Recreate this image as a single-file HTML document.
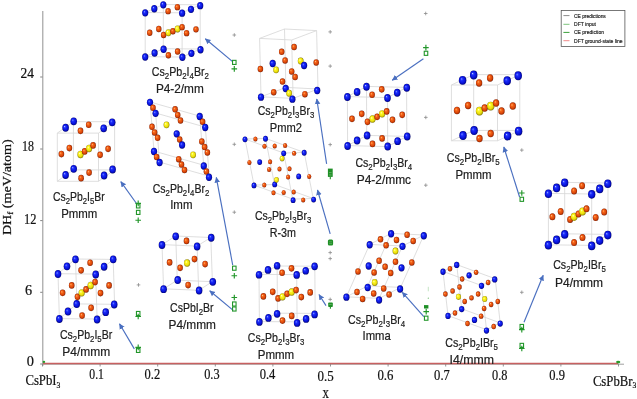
<!DOCTYPE html><html><head><meta charset="utf-8"><style>html,body{margin:0;padding:0;background:#fff;width:637px;height:399px;overflow:hidden}svg{display:block;filter:blur(0.3px)}</style></head><body>
<svg width="637" height="399" viewBox="0 0 637 399">
<defs>
<radialGradient id="gB" cx="0.5" cy="0.5" r="0.54" fx="0.34" fy="0.33"><stop offset="0" stop-color="#c4d0ff"/><stop offset="0.1" stop-color="#5a6cff"/><stop offset="0.3" stop-color="#1a2cfa"/><stop offset="0.65" stop-color="#0a14dc"/><stop offset="0.88" stop-color="#00069c"/><stop offset="1" stop-color="#000050"/></radialGradient>
<radialGradient id="gO" cx="0.5" cy="0.5" r="0.54" fx="0.34" fy="0.33"><stop offset="0" stop-color="#ffe0b0"/><stop offset="0.1" stop-color="#ff9a50"/><stop offset="0.3" stop-color="#f46418"/><stop offset="0.65" stop-color="#dc480a"/><stop offset="0.88" stop-color="#a02a00"/><stop offset="1" stop-color="#5a1000"/></radialGradient>
<radialGradient id="gY" cx="0.5" cy="0.5" r="0.54" fx="0.34" fy="0.33"><stop offset="0" stop-color="#ffffee"/><stop offset="0.12" stop-color="#ffff80"/><stop offset="0.32" stop-color="#fcf420"/><stop offset="0.65" stop-color="#ece010"/><stop offset="0.88" stop-color="#a89c00"/><stop offset="1" stop-color="#585200"/></radialGradient>
<marker id="ah" markerWidth="8" markerHeight="8" refX="5.2" refY="4" orient="auto" markerUnits="userSpaceOnUse"><path d="M0,1.2 L5.6,4 L0,6.8 Z" fill="#4a6fc0"/></marker>
</defs>
<rect width="637" height="399" fill="#fff"/>
<line x1="42.8" y1="11" x2="42.8" y2="366" stroke="#9a9a9a" stroke-width="1.1"/>
<line x1="42" y1="364.2" x2="624" y2="364.2" stroke="#a0a0a0" stroke-width="1"/>
<line x1="40.2" y1="77" x2="42.5" y2="77" stroke="#777" stroke-width="0.9"/>
<line x1="40.2" y1="149" x2="42.5" y2="149" stroke="#777" stroke-width="0.9"/>
<line x1="40.2" y1="220.6" x2="42.5" y2="220.6" stroke="#777" stroke-width="0.9"/>
<line x1="40.2" y1="292.3" x2="42.5" y2="292.3" stroke="#777" stroke-width="0.9"/>
<line x1="40.2" y1="364" x2="42.5" y2="364" stroke="#777" stroke-width="0.9"/>
<line x1="42.5" y1="364" x2="42.5" y2="366.5" stroke="#888" stroke-width="0.9"/>
<line x1="100.1" y1="364" x2="100.1" y2="366.5" stroke="#888" stroke-width="0.9"/>
<line x1="157.7" y1="364" x2="157.7" y2="366.5" stroke="#888" stroke-width="0.9"/>
<line x1="215.3" y1="364" x2="215.3" y2="366.5" stroke="#888" stroke-width="0.9"/>
<line x1="272.9" y1="364" x2="272.9" y2="366.5" stroke="#888" stroke-width="0.9"/>
<line x1="330.5" y1="364" x2="330.5" y2="366.5" stroke="#888" stroke-width="0.9"/>
<line x1="388.1" y1="364" x2="388.1" y2="366.5" stroke="#888" stroke-width="0.9"/>
<line x1="445.7" y1="364" x2="445.7" y2="366.5" stroke="#888" stroke-width="0.9"/>
<line x1="503.3" y1="364" x2="503.3" y2="366.5" stroke="#888" stroke-width="0.9"/>
<line x1="560.9" y1="364" x2="560.9" y2="366.5" stroke="#888" stroke-width="0.9"/>
<line x1="618.5" y1="364" x2="618.5" y2="366.5" stroke="#888" stroke-width="0.9"/>
<line x1="43" y1="363.5" x2="618" y2="363.5" stroke="#c86060" stroke-width="1.4"/>
<path d="M145.2,12.5L182.1,12.8 M182.1,12.8L200.2,4.8 M200.2,4.8L163.3,4.5 M163.3,4.5L145.2,12.5 M145.2,56.7L182.1,57.0 M182.1,57.0L200.2,49.0 M200.2,49.0L163.3,48.7 M163.3,48.7L145.2,56.7 M145.2,12.5L145.2,56.7 M182.1,12.8L182.1,57.0 M200.2,4.8L200.2,49.0 M163.3,4.5L163.3,48.7" stroke="#d8d8d8" stroke-width="0.85" fill="none"/>
<path d="M57.3,133.1L98.5,133.1 M98.5,133.1L114.6,121.7 M114.6,121.7L73.4,121.7 M73.4,121.7L57.3,133.1 M57.3,181.3L98.5,181.3 M98.5,181.3L114.6,169.9 M114.6,169.9L73.4,169.9 M73.4,169.9L57.3,181.3 M57.3,133.1L57.3,181.3 M98.5,133.1L98.5,181.3 M114.6,121.7L114.6,169.9 M73.4,121.7L73.4,169.9" stroke="#d8d8d8" stroke-width="0.85" fill="none"/>
<path d="M150.0,102.0L199.7,116.1 M199.7,116.1L205.3,127.1 M205.3,127.1L155.6,113.0 M155.6,113.0L150.0,102.0 M154.0,151.1L203.7,165.2 M203.7,165.2L209.3,176.2 M209.3,176.2L159.6,162.1 M159.6,162.1L154.0,151.1 M150.0,102.0L154.0,151.1 M199.7,116.1L203.7,165.2 M205.3,127.1L209.3,176.2 M155.6,113.0L159.6,162.1" stroke="#d8d8d8" stroke-width="0.85" fill="none"/>
<path d="M58.0,273.7L95.7,274.1 M95.7,274.1L113.2,259.4 M113.2,259.4L75.5,259.0 M75.5,259.0L58.0,273.7 M59.4,318.6L97.1,319.0 M97.1,319.0L114.6,304.3 M114.6,304.3L76.9,303.9 M76.9,303.9L59.4,318.6 M58.0,273.7L59.4,318.6 M95.7,274.1L97.1,319.0 M113.2,259.4L114.6,304.3 M75.5,259.0L76.9,303.9" stroke="#d8d8d8" stroke-width="0.85" fill="none"/>
<path d="M162.0,244.6L197.1,246.1 M197.1,246.1L210.8,237.5 M210.8,237.5L175.7,236.0 M175.7,236.0L162.0,244.6 M163.6,288.8L198.7,290.3 M198.7,290.3L212.4,281.7 M212.4,281.7L177.3,280.2 M177.3,280.2L163.6,288.8 M162.0,244.6L163.6,288.8 M197.1,246.1L198.7,290.3 M210.8,237.5L212.4,281.7 M175.7,236.0L177.3,280.2" stroke="#d8d8d8" stroke-width="0.85" fill="none"/>
<path d="M259.6,38.4L291.7,40.0 M291.7,40.0L316.6,30.6 M316.6,30.6L284.5,29.0 M284.5,29.0L259.6,38.4 M261.0,96.8L293.1,98.4 M293.1,98.4L318.0,89.0 M318.0,89.0L285.9,87.4 M285.9,87.4L261.0,96.8 M259.6,38.4L261.0,96.8 M291.7,40.0L293.1,98.4 M316.6,30.6L318.0,89.0 M284.5,29.0L285.9,87.4" stroke="#d8d8d8" stroke-width="0.85" fill="none"/>
<path d="M245.0,139.0L265.5,138.4 M265.5,138.4L304.2,152.4 M304.2,152.4L283.7,153.0 M283.7,153.0L245.0,139.0 M254.0,185.1L274.5,184.5 M274.5,184.5L313.2,198.5 M313.2,198.5L292.7,199.1 M292.7,199.1L254.0,185.1 M245.0,139.0L254.0,185.1 M265.5,138.4L274.5,184.5 M304.2,152.4L313.2,198.5 M283.7,153.0L292.7,199.1" stroke="#d8d8d8" stroke-width="0.85" fill="none"/>
<path d="M259.0,274.4L296.7,274.6 M296.7,274.6L314.8,266.2 M314.8,266.2L277.1,266.0 M277.1,266.0L259.0,274.4 M259.4,321.6L297.1,321.8 M297.1,321.8L315.2,313.4 M315.2,313.4L277.5,313.2 M277.5,313.2L259.4,321.6 M259.0,274.4L259.4,321.6 M296.7,274.6L297.1,321.8 M314.8,266.2L315.2,313.4 M277.1,266.0L277.5,313.2" stroke="#d8d8d8" stroke-width="0.85" fill="none"/>
<path d="M347.4,96.6L387.5,97.6 M387.5,97.6L406.6,87.4 M406.6,87.4L366.5,86.4 M366.5,86.4L347.4,96.6 M347.6,145.6L387.7,146.6 M387.7,146.6L406.8,136.4 M406.8,136.4L366.7,135.4 M366.7,135.4L347.6,145.6 M347.4,96.6L347.6,145.6 M387.5,97.6L387.7,146.6 M406.6,87.4L406.8,136.4 M366.5,86.4L366.7,135.4" stroke="#d8d8d8" stroke-width="0.85" fill="none"/>
<path d="M451.4,85.0L497.5,85.0 M497.5,85.0L519.8,74.6 M519.8,74.6L473.7,74.6 M473.7,74.6L451.4,85.0 M451.4,140.8L497.5,140.8 M497.5,140.8L519.8,130.4 M519.8,130.4L473.7,130.4 M473.7,130.4L451.4,140.8 M451.4,85.0L451.4,140.8 M497.5,85.0L497.5,140.8 M519.8,74.6L519.8,130.4 M473.7,74.6L473.7,130.4" stroke="#d8d8d8" stroke-width="0.85" fill="none"/>
<path d="M369.7,244.4L402.5,246.0 M402.5,246.0L423.9,235.0 M423.9,235.0L391.1,233.4 M391.1,233.4L369.7,244.4 M346.4,296.8L379.2,298.4 M379.2,298.4L400.6,287.4 M400.6,287.4L367.8,285.8 M367.8,285.8L346.4,296.8 M369.7,244.4L346.4,296.8 M402.5,246.0L379.2,298.4 M423.9,235.0L400.6,287.4 M391.1,233.4L367.8,285.8" stroke="#d8d8d8" stroke-width="0.85" fill="none"/>
<path d="M443.0,271.4L481.5,285.5 M481.5,285.5L495.2,278.7 M495.2,278.7L456.7,264.6 M456.7,264.6L443.0,271.4 M448.0,315.6L486.5,329.7 M486.5,329.7L500.2,322.9 M500.2,322.9L461.7,308.8 M461.7,308.8L448.0,315.6 M443.0,271.4L448.0,315.6 M481.5,285.5L486.5,329.7 M495.2,278.7L500.2,322.9 M456.7,264.6L461.7,308.8" stroke="#d8d8d8" stroke-width="0.85" fill="none"/>
<path d="M548.4,193.4L591.7,194.0 M591.7,194.0L608.0,183.0 M608.0,183.0L564.7,182.4 M564.7,182.4L548.4,193.4 M548.4,244.8L591.7,245.4 M591.7,245.4L608.0,234.4 M608.0,234.4L564.7,233.8 M564.7,233.8L548.4,244.8 M548.4,193.4L548.4,244.8 M591.7,194.0L591.7,245.4 M608.0,183.0L608.0,234.4 M564.7,182.4L564.7,233.8" stroke="#d8d8d8" stroke-width="0.85" fill="none"/>
<ellipse cx="145.2" cy="12.85" rx="3.10" ry="3.69" fill="url(#gB)"/>
<ellipse cx="145.2" cy="57.05" rx="3.10" ry="3.69" fill="url(#gB)"/>
<ellipse cx="149.7" cy="32.75" rx="2.70" ry="3.21" fill="url(#gO)"/>
<ellipse cx="154.3" cy="8.75" rx="3.10" ry="3.69" fill="url(#gB)"/>
<ellipse cx="154.6" cy="53.05" rx="3.10" ry="3.69" fill="url(#gB)"/>
<ellipse cx="158.8" cy="28.95" rx="2.70" ry="3.21" fill="url(#gO)"/>
<ellipse cx="163.3" cy="4.85" rx="3.10" ry="3.69" fill="url(#gB)"/>
<ellipse cx="163.6" cy="34.95" rx="2.70" ry="3.21" fill="url(#gO)"/>
<ellipse cx="163.6" cy="49.25" rx="3.10" ry="3.69" fill="url(#gB)"/>
<ellipse cx="168.1" cy="11.15" rx="2.70" ry="3.21" fill="url(#gO)"/>
<ellipse cx="168.4" cy="32.75" rx="2.90" ry="3.45" fill="url(#gY)"/>
<ellipse cx="168.4" cy="55.25" rx="2.70" ry="3.21" fill="url(#gO)"/>
<ellipse cx="172.9" cy="31.25" rx="2.70" ry="3.21" fill="url(#gO)"/>
<ellipse cx="177.4" cy="7.15" rx="2.70" ry="3.21" fill="url(#gO)"/>
<ellipse cx="177.6" cy="28.95" rx="2.90" ry="3.45" fill="url(#gY)"/>
<ellipse cx="177.6" cy="51.55" rx="2.70" ry="3.21" fill="url(#gO)"/>
<ellipse cx="182.1" cy="13.15" rx="3.10" ry="3.69" fill="url(#gB)"/>
<ellipse cx="182.1" cy="27.15" rx="2.70" ry="3.21" fill="url(#gO)"/>
<ellipse cx="182.4" cy="57.25" rx="3.10" ry="3.69" fill="url(#gB)"/>
<ellipse cx="186.6" cy="33.15" rx="2.70" ry="3.21" fill="url(#gO)"/>
<ellipse cx="191" cy="9.35" rx="3.10" ry="3.69" fill="url(#gB)"/>
<ellipse cx="191.4" cy="53.35" rx="3.10" ry="3.69" fill="url(#gB)"/>
<ellipse cx="196" cy="29.35" rx="2.70" ry="3.21" fill="url(#gO)"/>
<ellipse cx="200.2" cy="5.65" rx="3.10" ry="3.69" fill="url(#gB)"/>
<ellipse cx="200.5" cy="49.75" rx="3.10" ry="3.69" fill="url(#gB)"/>
<ellipse cx="61.4" cy="154.05" rx="2.80" ry="3.33" fill="url(#gO)"/>
<ellipse cx="65.6" cy="127.75" rx="3.30" ry="3.93" fill="url(#gB)"/>
<ellipse cx="65.6" cy="174.95" rx="3.30" ry="3.93" fill="url(#gB)"/>
<ellipse cx="69.4" cy="148.05" rx="2.80" ry="3.33" fill="url(#gO)"/>
<ellipse cx="73.7" cy="121.35" rx="3.30" ry="3.93" fill="url(#gB)"/>
<ellipse cx="73.7" cy="168.85" rx="3.30" ry="3.93" fill="url(#gB)"/>
<ellipse cx="80.5" cy="130.85" rx="2.80" ry="3.33" fill="url(#gO)"/>
<ellipse cx="80.5" cy="154.45" rx="3.10" ry="3.69" fill="url(#gY)"/>
<ellipse cx="81.1" cy="178.15" rx="2.80" ry="3.33" fill="url(#gO)"/>
<ellipse cx="84.7" cy="151.45" rx="2.80" ry="3.33" fill="url(#gO)"/>
<ellipse cx="88.7" cy="124.75" rx="2.80" ry="3.33" fill="url(#gO)"/>
<ellipse cx="89.1" cy="148.45" rx="3.10" ry="3.69" fill="url(#gY)"/>
<ellipse cx="89.1" cy="172.55" rx="2.80" ry="3.33" fill="url(#gO)"/>
<ellipse cx="93.1" cy="145.45" rx="2.80" ry="3.33" fill="url(#gO)"/>
<ellipse cx="100.1" cy="154.85" rx="2.80" ry="3.33" fill="url(#gO)"/>
<ellipse cx="103.7" cy="128.35" rx="3.30" ry="3.93" fill="url(#gB)"/>
<ellipse cx="104.1" cy="175.55" rx="3.30" ry="3.93" fill="url(#gB)"/>
<ellipse cx="108.1" cy="148.85" rx="2.80" ry="3.33" fill="url(#gO)"/>
<ellipse cx="112.2" cy="122.35" rx="3.30" ry="3.93" fill="url(#gB)"/>
<ellipse cx="112.6" cy="169.45" rx="3.30" ry="3.93" fill="url(#gB)"/>
<ellipse cx="150" cy="102.35" rx="3.10" ry="3.69" fill="url(#gB)"/>
<ellipse cx="152" cy="126.85" rx="2.75" ry="3.27" fill="url(#gO)"/>
<ellipse cx="153" cy="107.75" rx="2.75" ry="3.27" fill="url(#gO)"/>
<ellipse cx="154" cy="151.45" rx="3.10" ry="3.69" fill="url(#gB)"/>
<ellipse cx="154.6" cy="132.45" rx="2.75" ry="3.27" fill="url(#gO)"/>
<ellipse cx="155.6" cy="113.35" rx="3.10" ry="3.69" fill="url(#gB)"/>
<ellipse cx="156.6" cy="156.95" rx="2.75" ry="3.27" fill="url(#gO)"/>
<ellipse cx="157.6" cy="137.85" rx="2.75" ry="3.27" fill="url(#gO)"/>
<ellipse cx="159.6" cy="162.55" rx="3.10" ry="3.69" fill="url(#gB)"/>
<ellipse cx="166.5" cy="124.85" rx="2.90" ry="3.45" fill="url(#gY)"/>
<ellipse cx="175.1" cy="109.35" rx="2.75" ry="3.27" fill="url(#gO)"/>
<ellipse cx="176.7" cy="133.85" rx="3.10" ry="3.69" fill="url(#gB)"/>
<ellipse cx="177.7" cy="114.95" rx="2.75" ry="3.27" fill="url(#gO)"/>
<ellipse cx="178.7" cy="159.15" rx="2.75" ry="3.27" fill="url(#gO)"/>
<ellipse cx="179.7" cy="139.45" rx="2.75" ry="3.27" fill="url(#gO)"/>
<ellipse cx="180.5" cy="120.45" rx="2.75" ry="3.27" fill="url(#gO)"/>
<ellipse cx="181.5" cy="164.55" rx="2.75" ry="3.27" fill="url(#gO)"/>
<ellipse cx="182.1" cy="145.05" rx="3.10" ry="3.69" fill="url(#gB)"/>
<ellipse cx="184.5" cy="169.95" rx="2.75" ry="3.27" fill="url(#gO)"/>
<ellipse cx="193.1" cy="154.85" rx="2.90" ry="3.45" fill="url(#gY)"/>
<ellipse cx="199.7" cy="116.45" rx="3.10" ry="3.69" fill="url(#gB)"/>
<ellipse cx="201.8" cy="141.45" rx="2.75" ry="3.27" fill="url(#gO)"/>
<ellipse cx="202.6" cy="121.85" rx="2.75" ry="3.27" fill="url(#gO)"/>
<ellipse cx="203.8" cy="165.95" rx="3.10" ry="3.69" fill="url(#gB)"/>
<ellipse cx="204.6" cy="147.05" rx="2.75" ry="3.27" fill="url(#gO)"/>
<ellipse cx="205.2" cy="127.45" rx="3.10" ry="3.69" fill="url(#gB)"/>
<ellipse cx="206.4" cy="171.55" rx="2.75" ry="3.27" fill="url(#gO)"/>
<ellipse cx="207.4" cy="152.45" rx="2.75" ry="3.27" fill="url(#gO)"/>
<ellipse cx="209" cy="177.25" rx="3.10" ry="3.69" fill="url(#gB)"/>
<ellipse cx="58" cy="274.05" rx="3.30" ry="3.93" fill="url(#gB)"/>
<ellipse cx="59.4" cy="318.95" rx="3.30" ry="3.93" fill="url(#gB)"/>
<ellipse cx="62.6" cy="292.85" rx="2.80" ry="3.33" fill="url(#gO)"/>
<ellipse cx="67" cy="266.35" rx="3.30" ry="3.93" fill="url(#gB)"/>
<ellipse cx="68" cy="311.55" rx="3.30" ry="3.93" fill="url(#gB)"/>
<ellipse cx="71.7" cy="285.45" rx="2.80" ry="3.33" fill="url(#gO)"/>
<ellipse cx="75.5" cy="259.35" rx="3.30" ry="3.93" fill="url(#gB)"/>
<ellipse cx="76.7" cy="304.05" rx="3.30" ry="3.93" fill="url(#gB)"/>
<ellipse cx="77.5" cy="296.85" rx="2.80" ry="3.33" fill="url(#gO)"/>
<ellipse cx="81.1" cy="270.35" rx="2.80" ry="3.33" fill="url(#gO)"/>
<ellipse cx="81.7" cy="292.85" rx="3.10" ry="3.69" fill="url(#gY)"/>
<ellipse cx="82.1" cy="315.55" rx="2.80" ry="3.33" fill="url(#gO)"/>
<ellipse cx="86.1" cy="289.45" rx="2.80" ry="3.33" fill="url(#gO)"/>
<ellipse cx="90.1" cy="262.75" rx="2.80" ry="3.33" fill="url(#gO)"/>
<ellipse cx="90.7" cy="285.45" rx="3.10" ry="3.69" fill="url(#gY)"/>
<ellipse cx="91.1" cy="307.85" rx="2.80" ry="3.33" fill="url(#gO)"/>
<ellipse cx="95.1" cy="282.05" rx="2.80" ry="3.33" fill="url(#gO)"/>
<ellipse cx="95.7" cy="274.45" rx="3.30" ry="3.93" fill="url(#gB)"/>
<ellipse cx="97.1" cy="319.55" rx="3.30" ry="3.93" fill="url(#gB)"/>
<ellipse cx="100.5" cy="293.05" rx="2.80" ry="3.33" fill="url(#gO)"/>
<ellipse cx="104.1" cy="266.75" rx="3.30" ry="3.93" fill="url(#gB)"/>
<ellipse cx="105.7" cy="312.15" rx="3.30" ry="3.93" fill="url(#gB)"/>
<ellipse cx="109.1" cy="285.45" rx="2.80" ry="3.33" fill="url(#gO)"/>
<ellipse cx="113.2" cy="259.35" rx="3.30" ry="3.93" fill="url(#gB)"/>
<ellipse cx="114.2" cy="304.45" rx="3.30" ry="3.93" fill="url(#gB)"/>
<ellipse cx="162" cy="244.95" rx="3.30" ry="3.93" fill="url(#gB)"/>
<ellipse cx="163.6" cy="289.15" rx="3.30" ry="3.93" fill="url(#gB)"/>
<ellipse cx="169.6" cy="262.45" rx="2.80" ry="3.33" fill="url(#gO)"/>
<ellipse cx="175.7" cy="236.35" rx="3.30" ry="3.93" fill="url(#gB)"/>
<ellipse cx="177.7" cy="280.05" rx="3.30" ry="3.93" fill="url(#gB)"/>
<ellipse cx="180.1" cy="267.85" rx="2.80" ry="3.33" fill="url(#gO)"/>
<ellipse cx="186.5" cy="240.95" rx="2.80" ry="3.33" fill="url(#gO)"/>
<ellipse cx="187.1" cy="263.05" rx="3.10" ry="3.69" fill="url(#gY)"/>
<ellipse cx="188.1" cy="285.05" rx="2.80" ry="3.33" fill="url(#gO)"/>
<ellipse cx="194.5" cy="259.05" rx="2.80" ry="3.33" fill="url(#gO)"/>
<ellipse cx="197.1" cy="246.45" rx="3.30" ry="3.93" fill="url(#gB)"/>
<ellipse cx="199.1" cy="290.55" rx="3.30" ry="3.93" fill="url(#gB)"/>
<ellipse cx="205.1" cy="264.05" rx="2.80" ry="3.33" fill="url(#gO)"/>
<ellipse cx="211.2" cy="237.75" rx="3.30" ry="3.93" fill="url(#gB)"/>
<ellipse cx="212.8" cy="281.85" rx="3.30" ry="3.93" fill="url(#gB)"/>
<ellipse cx="260.4" cy="69.05" rx="2.75" ry="3.27" fill="url(#gO)"/>
<ellipse cx="261" cy="97.15" rx="3.10" ry="3.69" fill="url(#gB)"/>
<ellipse cx="272.7" cy="63.45" rx="3.10" ry="3.69" fill="url(#gB)"/>
<ellipse cx="273.7" cy="92.15" rx="2.75" ry="3.27" fill="url(#gO)"/>
<ellipse cx="276.1" cy="69.85" rx="2.90" ry="3.45" fill="url(#gY)"/>
<ellipse cx="281.7" cy="51.85" rx="2.75" ry="3.27" fill="url(#gO)"/>
<ellipse cx="282.5" cy="81.55" rx="2.75" ry="3.27" fill="url(#gO)"/>
<ellipse cx="285.1" cy="60.45" rx="2.75" ry="3.27" fill="url(#gO)"/>
<ellipse cx="285.7" cy="88.55" rx="3.10" ry="3.69" fill="url(#gB)"/>
<ellipse cx="289.1" cy="93.25" rx="2.90" ry="3.45" fill="url(#gY)"/>
<ellipse cx="291.7" cy="71.45" rx="2.75" ry="3.27" fill="url(#gO)"/>
<ellipse cx="292.4" cy="99.15" rx="3.10" ry="3.69" fill="url(#gB)"/>
<ellipse cx="294.1" cy="47.05" rx="2.75" ry="3.27" fill="url(#gO)"/>
<ellipse cx="295.1" cy="77.05" rx="2.75" ry="3.27" fill="url(#gO)"/>
<ellipse cx="300.7" cy="61.05" rx="2.90" ry="3.45" fill="url(#gY)"/>
<ellipse cx="304.1" cy="65.45" rx="3.10" ry="3.69" fill="url(#gB)"/>
<ellipse cx="304.9" cy="94.15" rx="2.75" ry="3.27" fill="url(#gO)"/>
<ellipse cx="316.2" cy="62.45" rx="2.75" ry="3.27" fill="url(#gO)"/>
<ellipse cx="317.2" cy="90.55" rx="3.10" ry="3.69" fill="url(#gB)"/>
<ellipse cx="245" cy="139.35" rx="2.45" ry="2.92" fill="url(#gB)"/>
<ellipse cx="249.4" cy="162.45" rx="2.10" ry="2.50" fill="url(#gO)"/>
<ellipse cx="254" cy="185.45" rx="2.45" ry="2.92" fill="url(#gB)"/>
<ellipse cx="255.4" cy="138.95" rx="2.10" ry="2.50" fill="url(#gO)"/>
<ellipse cx="259.7" cy="162.05" rx="2.45" ry="2.92" fill="url(#gB)"/>
<ellipse cx="264.3" cy="185.05" rx="2.10" ry="2.50" fill="url(#gO)"/>
<ellipse cx="264.5" cy="146.35" rx="2.10" ry="2.50" fill="url(#gO)"/>
<ellipse cx="265.5" cy="138.75" rx="2.45" ry="2.92" fill="url(#gB)"/>
<ellipse cx="269.1" cy="169.45" rx="2.10" ry="2.50" fill="url(#gO)"/>
<ellipse cx="270.1" cy="161.85" rx="2.10" ry="2.50" fill="url(#gO)"/>
<ellipse cx="273.5" cy="192.85" rx="2.10" ry="2.50" fill="url(#gO)"/>
<ellipse cx="274.7" cy="145.95" rx="2.10" ry="2.50" fill="url(#gO)"/>
<ellipse cx="274.7" cy="184.45" rx="2.45" ry="2.92" fill="url(#gB)"/>
<ellipse cx="276.5" cy="179.85" rx="2.35" ry="2.80" fill="url(#gY)"/>
<ellipse cx="279.5" cy="169.05" rx="2.10" ry="2.50" fill="url(#gO)"/>
<ellipse cx="282.1" cy="158.45" rx="2.35" ry="2.80" fill="url(#gY)"/>
<ellipse cx="283.7" cy="153.35" rx="2.45" ry="2.92" fill="url(#gB)"/>
<ellipse cx="283.7" cy="192.45" rx="2.10" ry="2.50" fill="url(#gO)"/>
<ellipse cx="285.1" cy="145.55" rx="2.10" ry="2.50" fill="url(#gO)"/>
<ellipse cx="288.1" cy="177.05" rx="2.10" ry="2.50" fill="url(#gO)"/>
<ellipse cx="289.5" cy="168.85" rx="2.10" ry="2.50" fill="url(#gO)"/>
<ellipse cx="293.1" cy="200.15" rx="2.45" ry="2.92" fill="url(#gB)"/>
<ellipse cx="293.7" cy="192.05" rx="2.10" ry="2.50" fill="url(#gO)"/>
<ellipse cx="294.1" cy="153.35" rx="2.10" ry="2.50" fill="url(#gO)"/>
<ellipse cx="298.7" cy="176.45" rx="2.45" ry="2.92" fill="url(#gB)"/>
<ellipse cx="303.2" cy="199.95" rx="2.10" ry="2.50" fill="url(#gO)"/>
<ellipse cx="304.2" cy="152.75" rx="2.45" ry="2.92" fill="url(#gB)"/>
<ellipse cx="309.2" cy="176.45" rx="2.10" ry="2.50" fill="url(#gO)"/>
<ellipse cx="313.6" cy="199.55" rx="2.45" ry="2.92" fill="url(#gB)"/>
<ellipse cx="259" cy="274.75" rx="3.25" ry="3.87" fill="url(#gB)"/>
<ellipse cx="259.4" cy="321.95" rx="3.25" ry="3.87" fill="url(#gB)"/>
<ellipse cx="263.4" cy="296.45" rx="2.80" ry="3.33" fill="url(#gO)"/>
<ellipse cx="268" cy="269.95" rx="3.25" ry="3.87" fill="url(#gB)"/>
<ellipse cx="268.4" cy="317.95" rx="3.25" ry="3.87" fill="url(#gB)"/>
<ellipse cx="272.7" cy="291.85" rx="2.80" ry="3.33" fill="url(#gO)"/>
<ellipse cx="277.1" cy="265.75" rx="3.25" ry="3.87" fill="url(#gB)"/>
<ellipse cx="277.1" cy="313.85" rx="3.25" ry="3.87" fill="url(#gB)"/>
<ellipse cx="278.1" cy="298.45" rx="2.80" ry="3.33" fill="url(#gO)"/>
<ellipse cx="282.1" cy="272.75" rx="2.80" ry="3.33" fill="url(#gO)"/>
<ellipse cx="282.5" cy="296.85" rx="3.10" ry="3.69" fill="url(#gY)"/>
<ellipse cx="282.5" cy="320.55" rx="2.80" ry="3.33" fill="url(#gO)"/>
<ellipse cx="287.1" cy="293.85" rx="2.80" ry="3.33" fill="url(#gO)"/>
<ellipse cx="291.5" cy="268.35" rx="2.80" ry="3.33" fill="url(#gO)"/>
<ellipse cx="291.7" cy="292.05" rx="3.10" ry="3.69" fill="url(#gY)"/>
<ellipse cx="291.7" cy="315.95" rx="2.80" ry="3.33" fill="url(#gO)"/>
<ellipse cx="296.1" cy="290.05" rx="2.80" ry="3.33" fill="url(#gO)"/>
<ellipse cx="296.7" cy="274.95" rx="3.25" ry="3.87" fill="url(#gB)"/>
<ellipse cx="297.1" cy="322.95" rx="3.25" ry="3.87" fill="url(#gB)"/>
<ellipse cx="301.3" cy="297.05" rx="2.80" ry="3.33" fill="url(#gO)"/>
<ellipse cx="305.7" cy="270.75" rx="3.25" ry="3.87" fill="url(#gB)"/>
<ellipse cx="306.1" cy="318.95" rx="3.25" ry="3.87" fill="url(#gB)"/>
<ellipse cx="310.2" cy="292.45" rx="2.80" ry="3.33" fill="url(#gO)"/>
<ellipse cx="314.6" cy="266.35" rx="3.25" ry="3.87" fill="url(#gB)"/>
<ellipse cx="314.6" cy="314.45" rx="3.25" ry="3.87" fill="url(#gB)"/>
<ellipse cx="347.4" cy="96.95" rx="3.30" ry="3.93" fill="url(#gB)"/>
<ellipse cx="347.6" cy="145.95" rx="3.30" ry="3.93" fill="url(#gB)"/>
<ellipse cx="352" cy="118.85" rx="2.80" ry="3.33" fill="url(#gO)"/>
<ellipse cx="357.1" cy="91.95" rx="3.30" ry="3.93" fill="url(#gB)"/>
<ellipse cx="357.1" cy="140.55" rx="3.30" ry="3.93" fill="url(#gB)"/>
<ellipse cx="361.7" cy="113.85" rx="2.80" ry="3.33" fill="url(#gO)"/>
<ellipse cx="366.5" cy="86.75" rx="3.30" ry="3.93" fill="url(#gB)"/>
<ellipse cx="367.1" cy="135.45" rx="3.30" ry="3.93" fill="url(#gB)"/>
<ellipse cx="367.5" cy="121.85" rx="2.80" ry="3.33" fill="url(#gO)"/>
<ellipse cx="372.1" cy="94.75" rx="2.80" ry="3.33" fill="url(#gO)"/>
<ellipse cx="372.5" cy="119.05" rx="3.10" ry="3.69" fill="url(#gY)"/>
<ellipse cx="372.5" cy="143.95" rx="2.80" ry="3.33" fill="url(#gO)"/>
<ellipse cx="377.1" cy="116.85" rx="2.80" ry="3.33" fill="url(#gO)"/>
<ellipse cx="381.7" cy="89.35" rx="2.80" ry="3.33" fill="url(#gO)"/>
<ellipse cx="382.1" cy="113.85" rx="3.10" ry="3.69" fill="url(#gY)"/>
<ellipse cx="382.1" cy="138.45" rx="2.80" ry="3.33" fill="url(#gO)"/>
<ellipse cx="386.7" cy="111.45" rx="2.80" ry="3.33" fill="url(#gO)"/>
<ellipse cx="387.5" cy="97.95" rx="3.30" ry="3.93" fill="url(#gB)"/>
<ellipse cx="387.7" cy="146.55" rx="3.30" ry="3.93" fill="url(#gB)"/>
<ellipse cx="392.5" cy="119.85" rx="2.80" ry="3.33" fill="url(#gO)"/>
<ellipse cx="397.2" cy="92.75" rx="3.30" ry="3.93" fill="url(#gB)"/>
<ellipse cx="397.6" cy="141.15" rx="3.30" ry="3.93" fill="url(#gB)"/>
<ellipse cx="402.2" cy="114.85" rx="2.80" ry="3.33" fill="url(#gO)"/>
<ellipse cx="406.8" cy="87.75" rx="3.30" ry="3.93" fill="url(#gB)"/>
<ellipse cx="407.2" cy="136.45" rx="3.30" ry="3.93" fill="url(#gB)"/>
<ellipse cx="457" cy="110.45" rx="3.15" ry="3.75" fill="url(#gO)"/>
<ellipse cx="462.6" cy="80.35" rx="3.75" ry="4.46" fill="url(#gB)"/>
<ellipse cx="463" cy="135.55" rx="3.75" ry="4.46" fill="url(#gB)"/>
<ellipse cx="468.1" cy="105.45" rx="3.15" ry="3.75" fill="url(#gO)"/>
<ellipse cx="473.7" cy="74.95" rx="3.75" ry="4.46" fill="url(#gB)"/>
<ellipse cx="474.1" cy="130.55" rx="3.75" ry="4.46" fill="url(#gB)"/>
<ellipse cx="479.1" cy="82.95" rx="3.15" ry="3.75" fill="url(#gO)"/>
<ellipse cx="479.5" cy="111.05" rx="3.70" ry="4.40" fill="url(#gY)"/>
<ellipse cx="479.5" cy="138.55" rx="3.15" ry="3.75" fill="url(#gO)"/>
<ellipse cx="484.7" cy="108.05" rx="3.15" ry="3.75" fill="url(#gO)"/>
<ellipse cx="490.1" cy="77.95" rx="3.15" ry="3.75" fill="url(#gO)"/>
<ellipse cx="490.7" cy="106.05" rx="3.70" ry="4.40" fill="url(#gY)"/>
<ellipse cx="490.7" cy="133.55" rx="3.15" ry="3.75" fill="url(#gO)"/>
<ellipse cx="496.1" cy="103.05" rx="3.15" ry="3.75" fill="url(#gO)"/>
<ellipse cx="501.5" cy="111.05" rx="3.15" ry="3.75" fill="url(#gO)"/>
<ellipse cx="507.2" cy="80.75" rx="3.75" ry="4.46" fill="url(#gB)"/>
<ellipse cx="507.6" cy="135.95" rx="3.75" ry="4.46" fill="url(#gB)"/>
<ellipse cx="512.8" cy="106.05" rx="3.15" ry="3.75" fill="url(#gO)"/>
<ellipse cx="518.2" cy="75.75" rx="3.75" ry="4.46" fill="url(#gB)"/>
<ellipse cx="518.6" cy="131.15" rx="3.75" ry="4.46" fill="url(#gB)"/>
<ellipse cx="346.4" cy="297.15" rx="3.10" ry="3.69" fill="url(#gB)"/>
<ellipse cx="357" cy="292.05" rx="2.75" ry="3.27" fill="url(#gO)"/>
<ellipse cx="358" cy="271.45" rx="2.75" ry="3.27" fill="url(#gO)"/>
<ellipse cx="362.6" cy="298.95" rx="2.75" ry="3.27" fill="url(#gO)"/>
<ellipse cx="367.7" cy="287.45" rx="3.10" ry="3.69" fill="url(#gB)"/>
<ellipse cx="368.7" cy="266.05" rx="3.10" ry="3.69" fill="url(#gB)"/>
<ellipse cx="369.7" cy="244.75" rx="3.10" ry="3.69" fill="url(#gB)"/>
<ellipse cx="373.7" cy="293.45" rx="2.75" ry="3.27" fill="url(#gO)"/>
<ellipse cx="374.1" cy="272.45" rx="2.75" ry="3.27" fill="url(#gO)"/>
<ellipse cx="374.7" cy="282.45" rx="2.90" ry="3.45" fill="url(#gY)"/>
<ellipse cx="379.1" cy="260.85" rx="2.75" ry="3.27" fill="url(#gO)"/>
<ellipse cx="379.1" cy="299.95" rx="3.10" ry="3.69" fill="url(#gB)"/>
<ellipse cx="380.5" cy="239.35" rx="2.75" ry="3.27" fill="url(#gO)"/>
<ellipse cx="383.7" cy="288.45" rx="2.75" ry="3.27" fill="url(#gO)"/>
<ellipse cx="385.1" cy="266.85" rx="2.75" ry="3.27" fill="url(#gO)"/>
<ellipse cx="386.1" cy="245.35" rx="2.75" ry="3.27" fill="url(#gO)"/>
<ellipse cx="389.1" cy="294.55" rx="2.75" ry="3.27" fill="url(#gO)"/>
<ellipse cx="390.7" cy="273.05" rx="2.75" ry="3.27" fill="url(#gO)"/>
<ellipse cx="391.1" cy="233.75" rx="3.10" ry="3.69" fill="url(#gB)"/>
<ellipse cx="395.5" cy="251.05" rx="2.90" ry="3.45" fill="url(#gY)"/>
<ellipse cx="395.5" cy="261.85" rx="2.75" ry="3.27" fill="url(#gO)"/>
<ellipse cx="396.5" cy="239.95" rx="2.75" ry="3.27" fill="url(#gO)"/>
<ellipse cx="400.1" cy="289.05" rx="3.10" ry="3.69" fill="url(#gB)"/>
<ellipse cx="401.5" cy="267.85" rx="3.10" ry="3.69" fill="url(#gB)"/>
<ellipse cx="402.5" cy="246.35" rx="3.10" ry="3.69" fill="url(#gB)"/>
<ellipse cx="407.1" cy="234.75" rx="2.75" ry="3.27" fill="url(#gO)"/>
<ellipse cx="411.8" cy="262.45" rx="2.75" ry="3.27" fill="url(#gO)"/>
<ellipse cx="413.2" cy="240.95" rx="2.75" ry="3.27" fill="url(#gO)"/>
<ellipse cx="423.8" cy="235.75" rx="3.10" ry="3.69" fill="url(#gB)"/>
<ellipse cx="443" cy="271.75" rx="2.65" ry="3.15" fill="url(#gB)"/>
<ellipse cx="445.4" cy="294.05" rx="2.25" ry="2.68" fill="url(#gO)"/>
<ellipse cx="448" cy="315.95" rx="2.65" ry="3.15" fill="url(#gB)"/>
<ellipse cx="450" cy="268.75" rx="2.25" ry="2.68" fill="url(#gO)"/>
<ellipse cx="452.6" cy="291.05" rx="2.25" ry="2.68" fill="url(#gO)"/>
<ellipse cx="455" cy="313.05" rx="2.25" ry="2.68" fill="url(#gO)"/>
<ellipse cx="456.7" cy="264.95" rx="2.65" ry="3.15" fill="url(#gB)"/>
<ellipse cx="458.5" cy="296.85" rx="2.55" ry="3.03" fill="url(#gY)"/>
<ellipse cx="459.5" cy="287.05" rx="2.25" ry="2.68" fill="url(#gO)"/>
<ellipse cx="461.7" cy="309.05" rx="2.65" ry="3.15" fill="url(#gB)"/>
<ellipse cx="462.1" cy="279.05" rx="2.25" ry="2.68" fill="url(#gO)"/>
<ellipse cx="464.7" cy="301.45" rx="2.25" ry="2.68" fill="url(#gO)"/>
<ellipse cx="467.5" cy="323.55" rx="2.25" ry="2.68" fill="url(#gO)"/>
<ellipse cx="469.1" cy="275.35" rx="2.65" ry="3.15" fill="url(#gB)"/>
<ellipse cx="471.5" cy="297.85" rx="2.25" ry="2.68" fill="url(#gO)"/>
<ellipse cx="474.5" cy="319.95" rx="2.65" ry="3.15" fill="url(#gB)"/>
<ellipse cx="476.1" cy="272.35" rx="2.25" ry="2.68" fill="url(#gO)"/>
<ellipse cx="478.1" cy="294.05" rx="2.25" ry="2.68" fill="url(#gO)"/>
<ellipse cx="481.1" cy="316.15" rx="2.25" ry="2.68" fill="url(#gO)"/>
<ellipse cx="481.5" cy="285.85" rx="2.65" ry="3.15" fill="url(#gB)"/>
<ellipse cx="484.1" cy="308.45" rx="2.25" ry="2.68" fill="url(#gO)"/>
<ellipse cx="484.7" cy="299.05" rx="2.55" ry="3.03" fill="url(#gY)"/>
<ellipse cx="486.5" cy="330.55" rx="2.65" ry="3.15" fill="url(#gB)"/>
<ellipse cx="488.1" cy="282.45" rx="2.25" ry="2.68" fill="url(#gO)"/>
<ellipse cx="491.1" cy="304.45" rx="2.25" ry="2.68" fill="url(#gO)"/>
<ellipse cx="493.7" cy="326.55" rx="2.25" ry="2.68" fill="url(#gO)"/>
<ellipse cx="494.7" cy="279.45" rx="2.65" ry="3.15" fill="url(#gB)"/>
<ellipse cx="497.8" cy="301.45" rx="2.25" ry="2.68" fill="url(#gO)"/>
<ellipse cx="500.2" cy="323.55" rx="2.65" ry="3.15" fill="url(#gB)"/>
<ellipse cx="548.4" cy="193.75" rx="3.65" ry="4.34" fill="url(#gB)"/>
<ellipse cx="548.4" cy="245.15" rx="3.65" ry="4.34" fill="url(#gB)"/>
<ellipse cx="552.4" cy="216.85" rx="2.95" ry="3.51" fill="url(#gO)"/>
<ellipse cx="556.6" cy="187.95" rx="3.65" ry="4.34" fill="url(#gB)"/>
<ellipse cx="556.6" cy="239.95" rx="3.65" ry="4.34" fill="url(#gB)"/>
<ellipse cx="560.7" cy="211.45" rx="2.95" ry="3.51" fill="url(#gO)"/>
<ellipse cx="564.7" cy="182.75" rx="3.65" ry="4.34" fill="url(#gB)"/>
<ellipse cx="564.7" cy="234.45" rx="3.65" ry="4.34" fill="url(#gB)"/>
<ellipse cx="570.1" cy="219.45" rx="2.95" ry="3.51" fill="url(#gO)"/>
<ellipse cx="574.1" cy="190.95" rx="2.95" ry="3.51" fill="url(#gO)"/>
<ellipse cx="574.1" cy="216.85" rx="3.40" ry="4.05" fill="url(#gY)"/>
<ellipse cx="574.1" cy="242.55" rx="2.95" ry="3.51" fill="url(#gO)"/>
<ellipse cx="578.5" cy="214.05" rx="2.95" ry="3.51" fill="url(#gO)"/>
<ellipse cx="582.1" cy="185.75" rx="2.95" ry="3.51" fill="url(#gO)"/>
<ellipse cx="582.5" cy="211.45" rx="3.40" ry="4.05" fill="url(#gY)"/>
<ellipse cx="582.5" cy="237.55" rx="2.95" ry="3.51" fill="url(#gO)"/>
<ellipse cx="586.5" cy="208.85" rx="2.95" ry="3.51" fill="url(#gO)"/>
<ellipse cx="591.7" cy="194.35" rx="3.65" ry="4.34" fill="url(#gB)"/>
<ellipse cx="591.7" cy="245.95" rx="3.65" ry="4.34" fill="url(#gB)"/>
<ellipse cx="595.7" cy="217.45" rx="2.95" ry="3.51" fill="url(#gO)"/>
<ellipse cx="599.7" cy="188.95" rx="3.65" ry="4.34" fill="url(#gB)"/>
<ellipse cx="599.7" cy="240.55" rx="3.65" ry="4.34" fill="url(#gB)"/>
<ellipse cx="604.2" cy="212.05" rx="2.95" ry="3.51" fill="url(#gO)"/>
<ellipse cx="607.8" cy="183.75" rx="3.65" ry="4.34" fill="url(#gB)"/>
<ellipse cx="607.8" cy="235.05" rx="3.65" ry="4.34" fill="url(#gB)"/>
<line x1="232.3" y1="61.4" x2="205.3" y2="38.8" stroke="#4a6fc0" stroke-width="1.15" marker-end="url(#ah)"/>
<line x1="136.5" y1="203.5" x2="120.8" y2="181.6" stroke="#4a6fc0" stroke-width="1.15" marker-end="url(#ah)"/>
<line x1="232.7" y1="265.0" x2="216.3" y2="177.4" stroke="#4a6fc0" stroke-width="1.15" marker-end="url(#ah)"/>
<line x1="134.3" y1="348.9" x2="119.5" y2="323.8" stroke="#4a6fc0" stroke-width="1.15" marker-end="url(#ah)"/>
<line x1="233.2" y1="310.4" x2="209.7" y2="290.8" stroke="#4a6fc0" stroke-width="1.15" marker-end="url(#ah)"/>
<line x1="326.6" y1="163.8" x2="316.8" y2="99.0" stroke="#4a6fc0" stroke-width="1.15" marker-end="url(#ah)"/>
<line x1="330.2" y1="233.9" x2="317.5" y2="190.0" stroke="#4a6fc0" stroke-width="1.15" marker-end="url(#ah)"/>
<line x1="326.0" y1="305.6" x2="319.0" y2="294.5" stroke="#4a6fc0" stroke-width="1.15" marker-end="url(#ah)"/>
<line x1="423.4" y1="58.7" x2="392.2" y2="80.2" stroke="#4a6fc0" stroke-width="1.15" marker-end="url(#ah)"/>
<line x1="519.6" y1="197.0" x2="503.8" y2="147.0" stroke="#4a6fc0" stroke-width="1.15" marker-end="url(#ah)"/>
<line x1="423.8" y1="316.6" x2="402.3" y2="292.3" stroke="#4a6fc0" stroke-width="1.15" marker-end="url(#ah)"/>
<line x1="524.0" y1="322.3" x2="543.2" y2="275.3" stroke="#4a6fc0" stroke-width="1.15" marker-end="url(#ah)"/>
<path d="M232.5,35H236.1M234.3,33.2V36.8" stroke="#8a8a8a" stroke-width="0.8"/>
<path d="M232.5,144.3H236.1M234.3,142.5V146.1" stroke="#8a8a8a" stroke-width="0.8"/>
<path d="M232.5,212.2H236.1M234.3,210.4V214.0" stroke="#8a8a8a" stroke-width="0.8"/>
<path d="M328.4,31.9H332.0M330.2,30.1V33.7" stroke="#8a8a8a" stroke-width="0.8"/>
<path d="M328.4,66.1H332.0M330.2,64.3V67.9" stroke="#8a8a8a" stroke-width="0.8"/>
<path d="M328.4,144.6H332.0M330.2,142.8V146.4" stroke="#8a8a8a" stroke-width="0.8"/>
<path d="M328.4,252.6H332.0M330.2,250.8V254.4" stroke="#8a8a8a" stroke-width="0.8"/>
<path d="M328.4,258.6H332.0M330.2,256.8V260.4" stroke="#8a8a8a" stroke-width="0.8"/>
<path d="M328.4,299.4H332.0M330.2,297.6V301.2" stroke="#8a8a8a" stroke-width="0.8"/>
<path d="M423.9,13.5H427.5M425.7,11.7V15.3" stroke="#8a8a8a" stroke-width="0.8"/>
<path d="M424.0,117.4H427.6M425.8,115.6V119.2" stroke="#8a8a8a" stroke-width="0.8"/>
<path d="M424.0,185.2H427.6M425.8,183.4V187.0" stroke="#8a8a8a" stroke-width="0.8"/>
<path d="M520.0,150.1H523.6M521.8,148.3V151.9" stroke="#8a8a8a" stroke-width="0.8"/>
<path d="M520.0,292.3H523.6M521.8,290.5V294.1" stroke="#8a8a8a" stroke-width="0.8"/>
<path d="M136.7,284.9H140.3M138.5,283.1V286.7" stroke="#8a8a8a" stroke-width="0.8"/>
<path d="M135.4,203.4H141.0M138.2,200.6V206.2" stroke="#22962a" stroke-width="1.15"/>
<path d="M135.4,220.2H141.0M138.2,217.4V223.0" stroke="#22962a" stroke-width="1.15"/>
<path d="M135.4,316.5H141.0M138.2,313.7V319.3" stroke="#22962a" stroke-width="1.15"/>
<path d="M135.4,347.4H141.0M138.2,344.6V350.2" stroke="#22962a" stroke-width="1.15"/>
<path d="M231.5,68.9H237.1M234.3,66.1V71.7" stroke="#22962a" stroke-width="1.15"/>
<path d="M231.5,275.7H237.1M234.3,272.9V278.5" stroke="#22962a" stroke-width="1.15"/>
<path d="M231.5,297.5H237.1M234.3,294.7V300.3" stroke="#22962a" stroke-width="1.15"/>
<path d="M423.1,47.6H428.7M425.9,44.8V50.4" stroke="#22962a" stroke-width="1.15"/>
<path d="M423.4,311.6H429.0M426.2,308.8V314.4" stroke="#22962a" stroke-width="1.15"/>
<path d="M519.0,193H524.6M521.8,190.2V195.8" stroke="#22962a" stroke-width="1.15"/>
<path d="M519.0,329.6H524.6M521.8,326.8V332.4" stroke="#22962a" stroke-width="1.15"/>
<path d="M519.0,348.5H524.6M521.8,345.7V351.3" stroke="#22962a" stroke-width="1.15"/>
<rect x="136.45" y="203.85" width="3.5" height="4.1" stroke="#22962a" stroke-width="1.1" fill="none"/>
<rect x="136.45" y="210.35" width="3.5" height="4.1" stroke="#22962a" stroke-width="1.1" fill="none"/>
<rect x="136.45" y="311.45" width="3.5" height="4.1" stroke="#22962a" stroke-width="1.1" fill="none"/>
<rect x="136.45" y="348.35" width="3.5" height="4.1" stroke="#22962a" stroke-width="1.1" fill="none"/>
<rect x="232.55" y="60.35" width="3.5" height="4.1" stroke="#22962a" stroke-width="1.1" fill="none"/>
<rect x="232.55" y="266.15" width="3.5" height="4.1" stroke="#22962a" stroke-width="1.1" fill="none"/>
<rect x="232.55" y="301.95" width="3.5" height="4.1" stroke="#22962a" stroke-width="1.1" fill="none"/>
<rect x="232.55" y="306.95" width="3.5" height="4.1" stroke="#22962a" stroke-width="1.1" fill="none"/>
<rect x="424.25" y="51.25" width="3.5" height="4.1" stroke="#22962a" stroke-width="1.1" fill="none"/>
<rect x="424.45" y="316.15" width="3.5" height="4.1" stroke="#22962a" stroke-width="1.1" fill="none"/>
<rect x="520.05" y="197.25" width="3.5" height="4.1" stroke="#22962a" stroke-width="1.1" fill="none"/>
<rect x="520.05" y="324.45" width="3.5" height="4.1" stroke="#22962a" stroke-width="1.1" fill="none"/>
<rect x="520.05" y="343.35" width="3.5" height="4.1" stroke="#22962a" stroke-width="1.1" fill="none"/>
<rect x="327.9" y="168.6" width="4.8" height="8.3" fill="#1f8f26"/><path d="M329,172.6h2.6M329,175h2.6" stroke="#7cc07c" stroke-width="0.7"/><path d="M330.3,176.8V179.3" stroke="#22962a" stroke-width="1.1"/>
<rect x="327.9" y="239.5" width="5.2" height="6" rx="1.5" fill="#1f8f26"/><path d="M329,241.8h3M329,243.6h3" stroke="#6cb86c" stroke-width="0.6"/>
<rect x="328.2" y="302.4" width="4.6" height="4.6" rx="0.8" fill="#1f8f26"/><path d="M329.2,304.5h2.6" stroke="#7cc07c" stroke-width="0.6"/><path d="M330.4,307V308.8" stroke="#22962a" stroke-width="1.1"/>
<rect x="424" y="305.1" width="4.4" height="3.4" fill="#1f8f26"/><path d="M428.3,286.8V291.3" stroke="#b8deb8" stroke-width="0.8"/><circle cx="428.3" cy="298.2" r="0.6" fill="#6ab86a"/>
<ellipse cx="43.9" cy="361.9" rx="1.3" ry="1.1" fill="#2a9a2a"/>
<ellipse cx="618.2" cy="362.1" rx="2.1" ry="1.4" fill="#2a9a2a"/>
<text x="151.7" y="75.9" font-size="12.2" fill="#202020" stroke="#202020" stroke-width="0.2" style="font-family:&quot;Liberation Sans&quot;,sans-serif" textLength="57.3" lengthAdjust="spacingAndGlyphs"><tspan>Cs</tspan><tspan font-size="9.03" dy="3.0">2</tspan><tspan dy="-3.0">Pb</tspan><tspan font-size="9.03" dy="3.0">2</tspan><tspan dy="-3.0">I</tspan><tspan font-size="9.03" dy="3.0">4</tspan><tspan dy="-3.0">Br</tspan><tspan font-size="9.03" dy="3.0">2</tspan></text>
<text x="155.9" y="92.7" font-size="12.2" fill="#202020" stroke="#202020" stroke-width="0.2" style="font-family:&quot;Liberation Sans&quot;,sans-serif" textLength="47.9" lengthAdjust="spacingAndGlyphs">P4-2/mm</text>
<text x="53.0" y="200.9" font-size="12.2" fill="#202020" stroke="#202020" stroke-width="0.2" style="font-family:&quot;Liberation Sans&quot;,sans-serif" textLength="51.7" lengthAdjust="spacingAndGlyphs"><tspan>Cs</tspan><tspan font-size="9.03" dy="3.0">2</tspan><tspan dy="-3.0">Pb</tspan><tspan font-size="9.03" dy="3.0">2</tspan><tspan dy="-3.0">I</tspan><tspan font-size="9.03" dy="3.0">5</tspan><tspan dy="-3.0">Br</tspan></text>
<text x="61.2" y="218.0" font-size="12.2" fill="#202020" stroke="#202020" stroke-width="0.2" style="font-family:&quot;Liberation Sans&quot;,sans-serif" textLength="36.1" lengthAdjust="spacingAndGlyphs">Pmmm</text>
<text x="152.7" y="192.7" font-size="12.2" fill="#202020" stroke="#202020" stroke-width="0.2" style="font-family:&quot;Liberation Sans&quot;,sans-serif" textLength="56.6" lengthAdjust="spacingAndGlyphs"><tspan>Cs</tspan><tspan font-size="9.03" dy="3.0">2</tspan><tspan dy="-3.0">Pb</tspan><tspan font-size="9.03" dy="3.0">2</tspan><tspan dy="-3.0">I</tspan><tspan font-size="9.03" dy="3.0">4</tspan><tspan dy="-3.0">Br</tspan><tspan font-size="9.03" dy="3.0">2</tspan></text>
<text x="170.2" y="209.0" font-size="12.2" fill="#202020" stroke="#202020" stroke-width="0.2" style="font-family:&quot;Liberation Sans&quot;,sans-serif" textLength="22.3" lengthAdjust="spacingAndGlyphs">Imm</text>
<text x="59.9" y="339.0" font-size="12.2" fill="#202020" stroke="#202020" stroke-width="0.2" style="font-family:&quot;Liberation Sans&quot;,sans-serif" textLength="52.3" lengthAdjust="spacingAndGlyphs"><tspan>Cs</tspan><tspan font-size="9.03" dy="3.0">2</tspan><tspan dy="-3.0">Pb</tspan><tspan font-size="9.03" dy="3.0">2</tspan><tspan dy="-3.0">I</tspan><tspan font-size="9.03" dy="3.0">5</tspan><tspan dy="-3.0">Br</tspan></text>
<text x="62.3" y="355.5" font-size="12.2" fill="#202020" stroke="#202020" stroke-width="0.2" style="font-family:&quot;Liberation Sans&quot;,sans-serif" textLength="47.9" lengthAdjust="spacingAndGlyphs">P4/mmm</text>
<text x="170.1" y="311.7" font-size="12.2" fill="#202020" stroke="#202020" stroke-width="0.2" style="font-family:&quot;Liberation Sans&quot;,sans-serif" textLength="43.5" lengthAdjust="spacingAndGlyphs"><tspan>CsPbI</tspan><tspan font-size="9.03" dy="3.0">2</tspan><tspan dy="-3.0">Br</tspan></text>
<text x="168.5" y="328.5" font-size="12.2" fill="#202020" stroke="#202020" stroke-width="0.2" style="font-family:&quot;Liberation Sans&quot;,sans-serif" textLength="47.4" lengthAdjust="spacingAndGlyphs">P4/mmm</text>
<text x="257.7" y="115.4" font-size="12.2" fill="#202020" stroke="#202020" stroke-width="0.2" style="font-family:&quot;Liberation Sans&quot;,sans-serif" textLength="56.6" lengthAdjust="spacingAndGlyphs"><tspan>Cs</tspan><tspan font-size="9.03" dy="3.0">2</tspan><tspan dy="-3.0">Pb</tspan><tspan font-size="9.03" dy="3.0">2</tspan><tspan dy="-3.0">I</tspan><tspan font-size="9.03" dy="3.0">3</tspan><tspan dy="-3.0">Br</tspan><tspan font-size="9.03" dy="3.0">3</tspan></text>
<text x="269.8" y="132.0" font-size="12.2" fill="#202020" stroke="#202020" stroke-width="0.2" style="font-family:&quot;Liberation Sans&quot;,sans-serif" textLength="32.2" lengthAdjust="spacingAndGlyphs">Pmm2</text>
<text x="254.9" y="219.6" font-size="12.2" fill="#202020" stroke="#202020" stroke-width="0.2" style="font-family:&quot;Liberation Sans&quot;,sans-serif" textLength="56.5" lengthAdjust="spacingAndGlyphs"><tspan>Cs</tspan><tspan font-size="9.03" dy="3.0">2</tspan><tspan dy="-3.0">Pb</tspan><tspan font-size="9.03" dy="3.0">2</tspan><tspan dy="-3.0">I</tspan><tspan font-size="9.03" dy="3.0">3</tspan><tspan dy="-3.0">Br</tspan><tspan font-size="9.03" dy="3.0">3</tspan></text>
<text x="269.8" y="236.6" font-size="12.2" fill="#202020" stroke="#202020" stroke-width="0.2" style="font-family:&quot;Liberation Sans&quot;,sans-serif" textLength="26.2" lengthAdjust="spacingAndGlyphs">R-3m</text>
<text x="247.8" y="342.3" font-size="12.2" fill="#202020" stroke="#202020" stroke-width="0.2" style="font-family:&quot;Liberation Sans&quot;,sans-serif" textLength="56.6" lengthAdjust="spacingAndGlyphs"><tspan>Cs</tspan><tspan font-size="9.03" dy="3.0">2</tspan><tspan dy="-3.0">Pb</tspan><tspan font-size="9.03" dy="3.0">2</tspan><tspan dy="-3.0">I</tspan><tspan font-size="9.03" dy="3.0">3</tspan><tspan dy="-3.0">Br</tspan><tspan font-size="9.03" dy="3.0">3</tspan></text>
<text x="257.7" y="359.2" font-size="12.2" fill="#202020" stroke="#202020" stroke-width="0.2" style="font-family:&quot;Liberation Sans&quot;,sans-serif" textLength="36.5" lengthAdjust="spacingAndGlyphs">Pmmm</text>
<text x="355.4" y="167.0" font-size="12.2" fill="#202020" stroke="#202020" stroke-width="0.2" style="font-family:&quot;Liberation Sans&quot;,sans-serif" textLength="56.8" lengthAdjust="spacingAndGlyphs"><tspan>Cs</tspan><tspan font-size="9.03" dy="3.0">2</tspan><tspan dy="-3.0">Pb</tspan><tspan font-size="9.03" dy="3.0">2</tspan><tspan dy="-3.0">I</tspan><tspan font-size="9.03" dy="3.0">3</tspan><tspan dy="-3.0">Br</tspan><tspan font-size="9.03" dy="3.0">4</tspan></text>
<text x="356.7" y="183.9" font-size="12.2" fill="#202020" stroke="#202020" stroke-width="0.2" style="font-family:&quot;Liberation Sans&quot;,sans-serif" textLength="54.4" lengthAdjust="spacingAndGlyphs">P4-2/mmc</text>
<text x="446.8" y="162.4" font-size="12.2" fill="#202020" stroke="#202020" stroke-width="0.2" style="font-family:&quot;Liberation Sans&quot;,sans-serif" textLength="52.9" lengthAdjust="spacingAndGlyphs"><tspan>Cs</tspan><tspan font-size="9.03" dy="3.0">2</tspan><tspan dy="-3.0">Pb</tspan><tspan font-size="9.03" dy="3.0">2</tspan><tspan dy="-3.0">IBr</tspan><tspan font-size="9.03" dy="3.0">5</tspan></text>
<text x="455.4" y="178.9" font-size="12.2" fill="#202020" stroke="#202020" stroke-width="0.2" style="font-family:&quot;Liberation Sans&quot;,sans-serif" textLength="36.1" lengthAdjust="spacingAndGlyphs">Pmmm</text>
<text x="348.0" y="323.5" font-size="12.2" fill="#202020" stroke="#202020" stroke-width="0.2" style="font-family:&quot;Liberation Sans&quot;,sans-serif" textLength="57.2" lengthAdjust="spacingAndGlyphs"><tspan>Cs</tspan><tspan font-size="9.03" dy="3.0">2</tspan><tspan dy="-3.0">Pb</tspan><tspan font-size="9.03" dy="3.0">2</tspan><tspan dy="-3.0">I</tspan><tspan font-size="9.03" dy="3.0">3</tspan><tspan dy="-3.0">Br</tspan><tspan font-size="9.03" dy="3.0">4</tspan></text>
<text x="362.5" y="339.6" font-size="12.2" fill="#202020" stroke="#202020" stroke-width="0.2" style="font-family:&quot;Liberation Sans&quot;,sans-serif" textLength="28.2" lengthAdjust="spacingAndGlyphs">Imma</text>
<text x="445.2" y="347.3" font-size="12.2" fill="#202020" stroke="#202020" stroke-width="0.2" style="font-family:&quot;Liberation Sans&quot;,sans-serif" textLength="52.8" lengthAdjust="spacingAndGlyphs"><tspan>Cs</tspan><tspan font-size="9.03" dy="3.0">2</tspan><tspan dy="-3.0">Pb</tspan><tspan font-size="9.03" dy="3.0">2</tspan><tspan dy="-3.0">IBr</tspan><tspan font-size="9.03" dy="3.0">5</tspan></text>
<text x="449.6" y="363.5" font-size="12.2" fill="#202020" stroke="#202020" stroke-width="0.2" style="font-family:&quot;Liberation Sans&quot;,sans-serif" textLength="44.4" lengthAdjust="spacingAndGlyphs">I4/mmm</text>
<text x="553.2" y="269.3" font-size="12.2" fill="#202020" stroke="#202020" stroke-width="0.2" style="font-family:&quot;Liberation Sans&quot;,sans-serif" textLength="52.6" lengthAdjust="spacingAndGlyphs"><tspan>Cs</tspan><tspan font-size="9.03" dy="3.0">2</tspan><tspan dy="-3.0">Pb</tspan><tspan font-size="9.03" dy="3.0">2</tspan><tspan dy="-3.0">IBr</tspan><tspan font-size="9.03" dy="3.0">5</tspan></text>
<text x="555.1" y="286.6" font-size="12.2" fill="#202020" stroke="#202020" stroke-width="0.2" style="font-family:&quot;Liberation Sans&quot;,sans-serif" textLength="47.9" lengthAdjust="spacingAndGlyphs">P4/mmm</text>
<text x="20.4" y="78" font-size="14.8" fill="#111" stroke="#111" stroke-width="0.22" style="font-family:&quot;Liberation Serif&quot;,serif" textLength="13.5" lengthAdjust="spacingAndGlyphs">24</text>
<text x="22.0" y="151" font-size="14.8" fill="#111" stroke="#111" stroke-width="0.22" style="font-family:&quot;Liberation Serif&quot;,serif" textLength="11.9" lengthAdjust="spacingAndGlyphs">18</text>
<text x="24.0" y="223.8" font-size="14.8" fill="#111" stroke="#111" stroke-width="0.22" style="font-family:&quot;Liberation Serif&quot;,serif" textLength="12.4" lengthAdjust="spacingAndGlyphs">12</text>
<text x="25.1" y="294.5" font-size="14.8" fill="#111" stroke="#111" stroke-width="0.22" style="font-family:&quot;Liberation Serif&quot;,serif" textLength="7.1" lengthAdjust="spacingAndGlyphs">6</text>
<text x="26.7" y="365.7" font-size="14.8" fill="#111" stroke="#111" stroke-width="0.22" style="font-family:&quot;Liberation Serif&quot;,serif" textLength="7.2" lengthAdjust="spacingAndGlyphs">0</text>
<text x="89.3" y="378.9" font-size="15" fill="#111" stroke="#111" stroke-width="0.22" style="font-family:&quot;Liberation Serif&quot;,serif" textLength="14.6" lengthAdjust="spacingAndGlyphs">0.1</text>
<text x="144.6" y="378.9" font-size="15" fill="#111" stroke="#111" stroke-width="0.22" style="font-family:&quot;Liberation Serif&quot;,serif" textLength="15.6" lengthAdjust="spacingAndGlyphs">0.2</text>
<text x="204.2" y="378.8" font-size="15" fill="#111" stroke="#111" stroke-width="0.22" style="font-family:&quot;Liberation Serif&quot;,serif" textLength="15.4" lengthAdjust="spacingAndGlyphs">0.3</text>
<text x="259.7" y="378.8" font-size="15" fill="#111" stroke="#111" stroke-width="0.22" style="font-family:&quot;Liberation Serif&quot;,serif" textLength="15.7" lengthAdjust="spacingAndGlyphs">0.4</text>
<text x="317.5" y="380.9" font-size="15" fill="#111" stroke="#111" stroke-width="0.22" style="font-family:&quot;Liberation Serif&quot;,serif" textLength="16.2" lengthAdjust="spacingAndGlyphs">0.5</text>
<text x="377.4" y="380.2" font-size="15" fill="#111" stroke="#111" stroke-width="0.22" style="font-family:&quot;Liberation Serif&quot;,serif" textLength="16.0" lengthAdjust="spacingAndGlyphs">0.6</text>
<text x="434.1" y="380.2" font-size="15" fill="#111" stroke="#111" stroke-width="0.22" style="font-family:&quot;Liberation Serif&quot;,serif" textLength="15.8" lengthAdjust="spacingAndGlyphs">0.7</text>
<text x="492.1" y="379.8" font-size="15" fill="#111" stroke="#111" stroke-width="0.22" style="font-family:&quot;Liberation Serif&quot;,serif" textLength="15.4" lengthAdjust="spacingAndGlyphs">0.8</text>
<text x="549.3" y="379.8" font-size="15" fill="#111" stroke="#111" stroke-width="0.22" style="font-family:&quot;Liberation Serif&quot;,serif" textLength="15.6" lengthAdjust="spacingAndGlyphs">0.9</text>
<text x="322.4" y="398.4" font-size="16" fill="#111" stroke="#111" stroke-width="0.22" style="font-family:&quot;Liberation Serif&quot;,serif" textLength="6.4" lengthAdjust="spacingAndGlyphs">x</text>
<text x="25.4" y="384.7" font-size="15" fill="#111" stroke="#111" stroke-width="0.22" style="font-family:&quot;Liberation Serif&quot;,serif" textLength="35" lengthAdjust="spacingAndGlyphs">CsPbI<tspan font-size="9" dy="2.8">3</tspan></text>
<text x="592.9" y="385.6" font-size="15" fill="#111" stroke="#111" stroke-width="0.22" style="font-family:&quot;Liberation Serif&quot;,serif" textLength="43.4" lengthAdjust="spacingAndGlyphs">CsPbBr<tspan font-size="9" dy="2.8">3</tspan></text>
<text transform="translate(11.2,235.1) rotate(-90)" x="0" y="0" font-size="12.8" fill="#111" stroke="#111" stroke-width="0.22" style="font-family:&quot;Liberation Serif&quot;,serif" textLength="95.8" lengthAdjust="spacingAndGlyphs">DH<tspan font-size="8.5" dy="2.2">f</tspan><tspan dy="-2.2"> (meV/atom)</tspan></text>
<rect x="561.2" y="10.4" width="63.7" height="36.1" fill="#fff" stroke="#555" stroke-width="0.8"/>
<line x1="563.4" y1="15.6" x2="569.5" y2="15.6" stroke="#8c8c8c" stroke-width="1"/>
<text x="574" y="17.5" font-size="5.4" fill="#222" stroke="#222" stroke-width="0.18" style="font-family:&quot;Liberation Sans&quot;,sans-serif" textLength="31.8" lengthAdjust="spacingAndGlyphs">CE predictions</text>
<line x1="563.4" y1="24.3" x2="569.5" y2="24.3" stroke="#7cc47c" stroke-width="1"/>
<text x="574" y="26.2" font-size="5.4" fill="#222" stroke="#222" stroke-width="0.18" style="font-family:&quot;Liberation Sans&quot;,sans-serif" textLength="22" lengthAdjust="spacingAndGlyphs">DFT input</text>
<line x1="563.4" y1="32.4" x2="569.5" y2="32.4" stroke="#3aa03a" stroke-width="1"/>
<text x="574" y="34.3" font-size="5.4" fill="#222" stroke="#222" stroke-width="0.18" style="font-family:&quot;Liberation Sans&quot;,sans-serif" textLength="30" lengthAdjust="spacingAndGlyphs">CE prediction</text>
<line x1="563.4" y1="40.7" x2="569.5" y2="40.7" stroke="#f08c8c" stroke-width="1"/>
<text x="574" y="42.6" font-size="5.4" fill="#222" stroke="#222" stroke-width="0.18" style="font-family:&quot;Liberation Sans&quot;,sans-serif" textLength="48.6" lengthAdjust="spacingAndGlyphs">DFT ground-state line</text>
</svg></body></html>
